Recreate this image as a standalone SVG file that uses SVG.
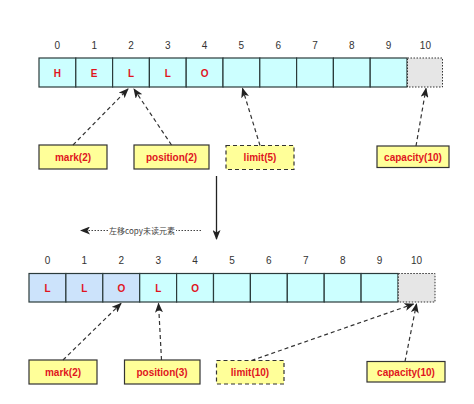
<svg xmlns="http://www.w3.org/2000/svg" width="474" height="404" viewBox="0 0 474 404">
<defs>
<marker id="ah" viewBox="0 0 10 8" refX="9" refY="4" markerWidth="10" markerHeight="8" markerUnits="userSpaceOnUse" orient="auto">
<path d="M0,0 L10,4 L0,8 L2.5,4 z" fill="#222"/>
</marker>
<style>
.cell{fill:#ccffff;stroke:#2b3b3b;stroke-width:1.2}
.cellb{fill:#cce3fb;stroke:#2b3b3b;stroke-width:1.2}
.cap{fill:#e6e6e6;stroke:#333;stroke-width:1;stroke-dasharray:1.5,1.5}
.idx{font-family:"Liberation Sans",Arial,sans-serif;font-size:10px;fill:#333;text-anchor:middle}
.let{font-family:"Liberation Sans",Arial,sans-serif;font-size:10px;font-weight:bold;fill:#e0141e;text-anchor:middle}
.box{fill:#ffff99;stroke:#333;stroke-width:1.2}
.boxd{fill:#ffff99;stroke:#333;stroke-width:1.2;stroke-dasharray:4,3}
.lbl{font-family:"Liberation Sans",Arial,sans-serif;font-size:10px;font-weight:bold;fill:#e0141e;text-anchor:middle}
.dl{fill:none;stroke:#333;stroke-width:1.2;stroke-dasharray:4,3}
</style>
</defs>
<rect width="474" height="404" fill="#fff"/>

<g id="top-array">
<g class="idx">
<text x="57.4" y="49">0</text><text x="94.2" y="49">1</text><text x="131" y="49">2</text><text x="167.8" y="49">3</text><text x="204.6" y="49">4</text><text x="241.4" y="49">5</text><text x="278.2" y="49">6</text><text x="315" y="49">7</text><text x="351.8" y="49">8</text><text x="388.6" y="49">9</text><text x="425.4" y="49">10</text>
</g>
<rect class="cell" x="39" y="58" width="36.8" height="29"/>
<rect class="cell" x="75.8" y="58" width="36.8" height="29"/>
<rect class="cell" x="112.6" y="58" width="36.8" height="29"/>
<rect class="cell" x="149.4" y="58" width="36.8" height="29"/>
<rect class="cell" x="186.2" y="58" width="36.8" height="29"/>
<rect class="cell" x="223" y="58" width="36.8" height="29"/>
<rect class="cell" x="259.8" y="58" width="36.8" height="29"/>
<rect class="cell" x="296.6" y="58" width="36.8" height="29"/>
<rect class="cell" x="333.4" y="58" width="36.8" height="29"/>
<rect class="cell" x="370.2" y="58" width="36.8" height="29"/>
<rect class="cap" x="407.5" y="58" width="35" height="29"/>
<g class="let">
<text x="57.4" y="76.5">H</text><text x="94.2" y="76.5">E</text><text x="131" y="76.5">L</text><text x="167.8" y="76.5">L</text><text x="204.6" y="76.5">O</text>
</g>
</g>

<g id="bottom-array">
<g class="idx">
<text x="47.5" y="264">0</text><text x="84.4" y="264">1</text><text x="121.3" y="264">2</text><text x="158.2" y="264">3</text><text x="195.1" y="264">4</text><text x="232" y="264">5</text><text x="268.9" y="264">6</text><text x="305.8" y="264">7</text><text x="342.7" y="264">8</text><text x="379.6" y="264">9</text><text x="416.5" y="264">10</text>
</g>
<rect class="cellb" x="29" y="273.5" width="36.9" height="28.5"/>
<rect class="cellb" x="65.9" y="273.5" width="36.9" height="28.5"/>
<rect class="cellb" x="102.8" y="273.5" width="36.9" height="28.5"/>
<rect class="cell" x="139.7" y="273.5" width="36.9" height="28.5"/>
<rect class="cell" x="176.6" y="273.5" width="36.9" height="28.5"/>
<rect class="cell" x="213.5" y="273.5" width="36.9" height="28.5"/>
<rect class="cell" x="250.4" y="273.5" width="36.9" height="28.5"/>
<rect class="cell" x="287.3" y="273.5" width="36.9" height="28.5"/>
<rect class="cell" x="324.2" y="273.5" width="36.9" height="28.5"/>
<rect class="cell" x="361.1" y="273.5" width="36.9" height="28.5"/>
<rect class="cap" x="398.3" y="273.5" width="36.7" height="28.5"/>
<g class="let">
<text x="47.5" y="291.5">L</text><text x="84.4" y="291.5">L</text><text x="121.3" y="291.5">O</text><text x="158.2" y="291.5">L</text><text x="195.1" y="291.5">O</text>
</g>
</g>

<g id="mark-top"><rect class="box" x="39" y="145" width="68" height="24"/><text class="lbl" x="73" y="160.5">mark(2)</text></g>
<g id="position-top"><rect class="box" x="134" y="145" width="75" height="24"/><text class="lbl" x="171.5" y="160.5">position(2)</text></g>
<g id="limit-top"><rect class="boxd" x="226" y="145.5" width="68" height="24"/><text class="lbl" x="260" y="161">limit(5)</text></g>
<g id="capacity-top"><rect class="box" x="377" y="146" width="72" height="21.5"/><text class="lbl" x="413" y="160.5">capacity(10)</text></g>

<g id="mark-bottom"><rect class="box" x="29" y="360" width="68" height="24"/><text class="lbl" x="63" y="375.5">mark(2)</text></g>
<g id="position-bottom"><rect class="box" x="124.5" y="360" width="75.5" height="24"/><text class="lbl" x="162" y="375.5">position(3)</text></g>
<g id="limit-bottom"><rect class="boxd" x="216.5" y="360.5" width="67.5" height="23.5"/><text class="lbl" x="250" y="376">limit(10)</text></g>
<g id="capacity-bottom"><rect class="box" x="367" y="361.5" width="78" height="20.5"/><text class="lbl" x="406" y="375.5">capacity(10)</text></g>

<g id="connectors">
<line class="dl" x1="73" y1="145" x2="128" y2="89" marker-end="url(#ah)"/>
<line class="dl" x1="171.5" y1="145" x2="134" y2="89" marker-end="url(#ah)"/>
<line class="dl" x1="260" y1="145.5" x2="242.5" y2="88.5" marker-end="url(#ah)"/>
<line class="dl" x1="416" y1="146" x2="426" y2="88.5" marker-end="url(#ah)"/>
<line class="dl" x1="63" y1="360" x2="121" y2="303.5" marker-end="url(#ah)"/>
<line class="dl" x1="161.5" y1="360" x2="158.5" y2="303.5" marker-end="url(#ah)"/>
<line class="dl" x1="251.5" y1="360.5" x2="413.5" y2="304" marker-end="url(#ah)"/>
<line class="dl" x1="405" y1="361.5" x2="416.5" y2="304" marker-end="url(#ah)"/>
<line x1="216.5" y1="176" x2="216.5" y2="239" stroke="#222" stroke-width="1.3" marker-end="url(#ah)"/>
<line x1="201" y1="230.5" x2="176" y2="230.5" stroke="#444" stroke-width="1" stroke-dasharray="1.5,1.5"/>
<line x1="108" y1="230.5" x2="81" y2="230.5" stroke="#444" stroke-width="1" stroke-dasharray="1.5,1.5" marker-end="url(#ah)"/>
<text x="142" y="233.5" font-family="'Noto Sans CJK SC','Liberation Sans',sans-serif" font-size="8px" fill="#444" text-anchor="middle">左移copy未读元素</text>
</g>
</svg>
